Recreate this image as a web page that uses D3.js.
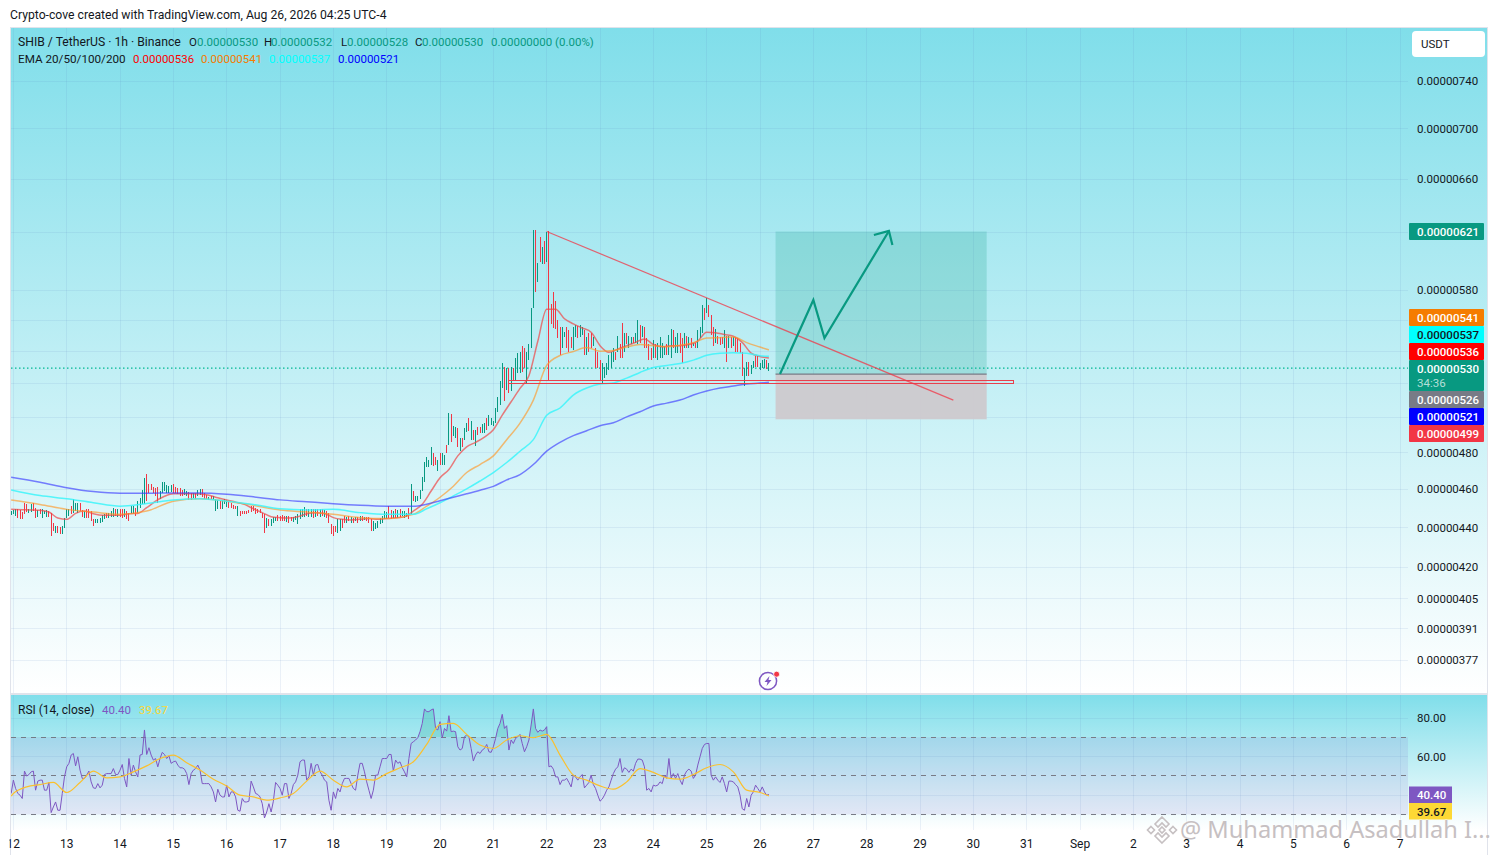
<!DOCTYPE html>
<html>
<head>
<meta charset="utf-8">
<title>SHIB / TetherUS</title>
<script src="https://cdn.jsdelivr.net/npm/d3@7"></script>
<style>
  html, body { margin: 0; padding: 0; background: #fff; overflow: hidden; }
  svg { display: block; }
  text { font-family: Roboto, "Noto Sans", sans-serif; font-size: 11.5px; fill: #131722; }
  .axis path, .axis line { display: none; }
</style>
</head>
<body>
<svg id="chart" width="1498" height="855"></svg>
<script>
// candles are hourly, the first one is Aug 11 23:00. prices are in units of 0.00000001
const firstCandle = Date.UTC(2026, 7, 11, 23);
const hourMs = 3600000;

const candleHigh = [
  448.4,449,449.6,449.3,449,447.9,452.4,452.3,449.6,452.3,452.4,450.2,449,449.3,449.3,448.4,448.8,448.4,447.6,442.4,440.6,440.6,440,440.6,445,
  449.3,449.3,451,454.5,452.8,452.4,452.4,449,448.4,449.3,449.3,448.4,444.1,444.1,444.1,445,446.2,446.7,447.6,447.2,448.4,450.2,449.3,449.3,
  449.3,449.3,449.3,448.4,447.6,451,451,450.2,453.6,455.4,459.7,465.8,468,463,463,461.4,460.6,461.4,458.8,464,464,462.3,461.8,462.3,
  462.8,461.4,460.6,460.6,459.4,460,458.8,458.3,458,458,458,459.7,460,460,458,457.1,455.9,456.2,456.6,454.5,454.2,453.6,454.2,454.5,
  454.2,453.6,452.8,451.4,451,451,448.4,448.4,448.4,448.4,449,451,451,450.2,449.3,449.6,447.6,446.7,445,444.1,444.5,445.5,445.5,446.2,
  445.8,446.2,445.8,445.8,445.8,445.5,445.5,445.8,446.7,449.3,449.6,450.7,449.6,449.3,449.6,449.3,449.3,449.3,449.3,449.3,449,448.4,447.6,441.5,
  440.6,440.6,444.1,444.1,444.5,445.8,445.5,445.8,445.5,445,445.5,445.5,445.8,445.8,445.5,445.5,445.5,444.1,443.2,442.4,443.2,445,445.8,448.4,
  447.9,451,449,448.4,449.3,449,449.3,448.4,448.4,447.6,450.2,462.8,459,456.5,456.5,459.8,466.3,475,477.3,476,483.4,480,477.8,476,
  479.9,479.9,478.5,484.5,502.4,502,495,494.5,494,488.5,488,493.7,497,500,498,493,493,494.5,494.5,496,497,500,501.5,500,
  498,505.6,512,521.7,532.7,530.5,529.5,529.5,530.5,529.5,535.7,538.8,539.5,543.7,542.5,539.5,545,568,622,622,598.5,617,610,614,
  620.7,621.5,571,578.5,572.5,560,555.7,555.7,552.5,555.7,553.5,549,555.7,557,556.2,557,555.7,553.5,549,552,551.5,549,542.5,539.5,
  534.6,532.7,530.5,532.7,537.6,539.5,541.9,539.5,550,545,558.5,551.5,551.5,550,549,549,551.5,560,557,556.2,555.7,548.6,545,542.5,
  547,545,545.6,549,545.6,543.7,545,550.6,554.6,553.5,549,551.5,552,548.6,552,550,549,548.6,545.6,545.6,553.5,555.7,570,568,
  575,570,563.4,555.7,554.6,550,549.5,549,553.5,550,550,549,549,549,548.6,545.6,539.5,529.5,533.3,533.3,531.3,534,537,537,
  532.7,534.6,535,534.6,532.7
];
const candleLow = [
  446.2,446.7,445.8,445,444.5,444.1,446.7,447.9,447.6,447.9,448.4,445,445.5,446.7,445,446.7,445.5,445.5,435.4,438,437.2,437.2,436.8,436.8,439.8,
  445,445.8,446.7,447.6,448.4,447.6,448.4,445.5,445,445,445,443.2,440.6,442,442.4,442,442.7,444.1,445,445,445.5,445.5,445.8,445.5,
  445.5,445,445.5,444.5,443.2,446.7,446.7,445.8,447.6,450.2,451.9,451.9,453.6,458,459.7,458,456.2,452.8,454.5,458,458.8,458,458,458.3,
  458,458,457.6,456.2,456.6,457.1,456.2,454.2,454.2,455.4,454.9,456.2,457.1,455.9,454.9,454.5,454.2,454.9,454.2,448.4,449.3,449.3,449.3,451.9,
  450.7,450.2,450.2,449.3,449.3,445.8,445.8,446.7,446.7,446.7,447.2,447.9,448.4,446.7,447.2,447.6,445,437.2,439.8,440.6,440.6,442.4,443.2,443.2,
  443.2,443.2,443.2,442.7,442.4,443.2,442.7,443.8,441.5,444.1,445.5,445.5,445.8,445.5,445.5,445,445.5,445.8,445.5,445.8,445.5,445,442.4,436.8,
  435.8,437.5,437.2,438,439.8,442.4,442.4,443.2,442.4,442.4,443.2,442.4,443.2,443.2,443.8,443.2,442.4,438,438,438.9,439.8,441.5,442.4,444.1,
  444.5,445,444.5,445,445,445,445.5,445.8,445,445.5,444.5,446.7,453.5,453,453.5,454.7,459,463.7,471.8,471.8,473.4,472.4,473,470,
  473.4,473.4,473.4,480,484.5,486,489.6,488.5,483,481,483,487,491.5,492.4,487,487,484,490,491,491,491,493,495,495.5,
  495,497,503,507.4,517.5,509.7,516.3,514.5,515.7,522.3,521.7,526.7,526.7,527,530,520.5,534.6,542.5,568,578.5,585.3,599,597.6,597.6,
  599,522.3,557.7,555,554.6,548.6,537.6,542.5,549.3,542.5,539.5,542.5,541,549.3,548.6,549.3,550.6,537.6,537.6,539.5,542.5,543.7,530,530,
  521.7,520.5,523.5,525.2,528.3,530,533.3,534.6,539.5,536.2,536.2,539.5,545,541.9,545,545.6,545.6,545,545.6,549.3,541.9,541.9,534.6,534.6,
  536.2,536.2,534.6,535.7,535.7,537.6,537.6,537.6,536.2,541.9,538.8,538.8,538.8,532.7,541.9,541.9,542.5,541.9,543.7,541.9,542.5,548.6,551.5,560,
  565,562,550.6,543.7,545.6,545,544.4,545,541.9,533.3,541.9,541.9,543.7,539.5,539.5,538.8,524.6,518.7,524.6,524.6,526,529.5,530.5,530.5,
  528.3,529.5,529.5,529,527.7
];
// g = close above open, r = close below open
const candleDir = "gggrrrrrggrrgrgggrrrgrrgg" + "ggrgggrrgrrrrgggggrgggrg" + "rrgrrggrggggrrrrrrgggggg" +
  "rrrrrggrrgrggrrrgrgggrgg" + "grrrrgrrrrrrrrrrrrgrgggr" + "rrrgrrggggggrggrgrgrgrrr" +
  "rrggrrgrgrgrgrgrrrgggggg" + "grrgrgrgggrgrggggggggrrg" + "rggrgrggrgrggrgrgrrggrgg" +
  "gggggrgrgrgggrrggggrgrgr" + "grrrrrrggrrrggrggrgrrgrr" + "rggggggrgrrgrggrggrgrrrr" +
  "grggggrggrggrrgrgrgrgggr" + "grrrgrrrgrgrgrrrrggrggrr" + "gggrg";

// EMA readings, hours counted from Aug 12 00:00
const emaSlowHours = [-1,12,24,36,48,60,72,84,96,108,120,132,144,156,168,180,186,192,198,204,210,216,222,228,234,240,246,252,258,264,270,276,282,288,294,300,306,312,318,324,330,336,340];
const ema200 = [466.4,463.7,460.8,458.7,457.8,457.8,458,458,457.3,455.9,454.3,453.3,452.3,451.5,451,450.9,452,453.8,455.7,457.5,459.4,461.5,465,467.9,473.4,480.8,485.8,489.6,492.4,495.3,497,500.4,503.4,506.8,508.5,510.3,513.3,515.7,517.5,518.7,519.9,520.5,521];
const ema100 = [459.6,456.6,454.9,452.8,451,452.4,454.2,454.9,453.6,451.9,449.6,449,449.3,447.6,446.7,446.7,449.6,452.8,456.4,460.2,464.4,469,474.5,480.8,487.3,501.4,505.6,513.3,517.5,519.9,520.6,523.5,527,530,531.3,532.5,534.6,537.6,538.9,539.2,538.9,537.3,537];
const ema50 = [454.2,451.9,449.3,447.9,446.7,448.4,453.6,454.9,453.6,451.4,449,447.9,446.7,445,444.5,446.7,451,455.7,461.6,469,473.4,478.2,487.3,496.8,510.3,531.3,537.5,540,542.5,540.2,540.6,542.8,544.4,543.7,543,544,545.6,548.5,548.8,549.2,545.6,542.8,541];
const emaFastHours = [-1,4,8,12,16,20,24,28,32,36,40,44,48,52,56,60,64,68,72,76,80,84,88,92,96,100,104,108,112,116,120,124,128,132,136,140,144,148,152,156,160,164,168,172,176,180,184,188,192,196,200,204,208,212,216,220,224,228,232,236,240,244,248,252,256,260,264,268,272,276,280,284,288,292,296,300,304,308,312,316,320,324,328,332,336,340];
const ema20 = [449.3,449.1,449,448.8,447.9,444.8,444.1,447.2,448.4,447,446.2,446.2,446.2,447,447.2,450.2,453.6,456.2,457.6,457.6,457.6,457.4,456.8,455.4,454.2,453.1,451.9,449.6,447.6,445.5,445,444.8,445.5,447,447.6,447.2,445,444.1,443.8,444.1,444.5,444.1,444.5,445,445.5,448.4,452,459,466.2,470.7,478.2,483.2,485.8,488.8,493,501.4,509.3,517.3,525,546.5,567.3,567.3,561,557.7,555,552.3,543.7,539.5,541.5,543.7,545.8,548,544.4,543,543.7,543.7,544.4,546.6,552.3,552,550.8,549.7,545.8,539,536.9,536];

// RSI 14 for each candle
const rsiValues = [
  40.9,47.8,43.5,40.9,40,38.3,52.5,49.9,50.7,52.1,52.5,42.6,47.3,47.8,47.8,42.6,42.6,46.6,31,33.9,36.5,32.2,32.2,40.9,49.5,
  54.7,56.5,60.8,61.6,55.2,59.9,53,48.7,48.7,50.4,52.5,46.9,43.8,43.5,46,43.8,45.2,50.7,51.2,51.2,51.2,53.8,50.7,50.7,
  53,55.9,48.7,44.3,59,50.4,55.6,52.1,49.5,60.8,61.1,73.8,61.1,64.6,60.8,58.2,59,54.7,59,62.2,61.1,59,60.4,56.5,
  57.3,57.7,55.6,54.2,54.2,53.5,51.2,45.5,51.2,53,53.8,55.6,53,46,46,46,46,44.3,41.7,36.5,43.1,40,39.1,39.1,
  45.2,39.1,41.7,41.7,39.1,32.2,31.7,38.3,36.5,36.5,36.9,47.3,44.3,40.9,40.4,39.1,35.6,28.2,31.3,35.6,31.3,36.9,46.6,45.2,
  43.5,40,46,46,38.3,40.9,45.5,46.9,50.4,57.3,58.2,58.2,47.8,49.5,56.5,50.4,55.6,55.9,52.1,50.4,47.8,46.9,37.4,32.2,
  41.7,38.3,43.5,41.7,46,48.7,48.7,48.7,46,43.5,42.6,50.4,56.5,56.5,52.1,46.9,42.6,38.3,42.6,50.4,50.4,54.7,59,59,
  59,61.1,61.1,52.5,58.2,56.5,57.3,54.2,52.1,49.5,59,66.8,67.7,68.6,69.8,72.9,77.2,84.7,83.3,83.3,84.2,84.7,74.6,73.8,
  78.1,69.8,74.6,73.2,81.2,72.9,73.2,72.9,65.1,63.4,64.2,70.3,71.2,70.3,64.2,57.7,60.8,62.5,61.6,63.4,64.2,66.3,62.5,62.2,
  65.1,69.4,74.6,77.2,81.9,74.6,76,63.4,68.6,66.8,69.4,70.3,71.5,66.8,62.5,65.1,68.6,76.4,84.7,74.6,72.6,73.8,73.2,73.8,
  75.5,54.7,55.2,53.5,49.5,49.5,45.5,47.8,47.8,48.7,46.6,44.3,50.4,49.5,47.8,49.5,50.7,43.8,45.2,46.6,50.4,45.5,43.5,40,
  36.9,38,40,42.6,44.3,47.8,51.2,53.5,54.7,59,51.8,54.2,53.5,51.8,53.5,52.5,56.5,58.7,58.7,58.2,54.7,42.6,43.5,41.7,
  45.2,44.8,45.2,46.9,46,50.4,48.7,59,48.7,51.2,48.7,51.2,47.8,45.5,50.4,52.5,53.5,52.5,48.7,50.4,55.6,59.9,64.2,66.3,
  66.8,66.8,50.4,47.8,49.5,47.8,46.6,49.5,46,41.7,47.3,47.3,46.9,45.5,44.3,40,33,32.2,38.3,33.9,40,41.7,45.2,43.5,
  41.7,44.3,41.7,40,40.4
];
const rsiMaHours = [-1,0,6,12,18,24,30,36,42,48,54,60,66,72,78,84,90,96,102,108,114,120,126,132,138,144,150,156,162,168,174,180,186,192,198,204,210,216,222,228,234,240,246,252,258,264,270,276,282,288,294,300,306,312,318,324,330,336,340];
const rsiMa = [39.5,40.9,44.3,45.5,46.6,41.4,46.6,52.5,49,49.5,52.1,55.2,59,60.8,56.8,53,48.3,44.8,40,39.1,37.4,38.6,40.9,47.3,52.5,47.8,44.3,48.3,47.8,51.2,54.2,57.3,66.3,76.7,77.2,71.5,66,64.2,68.6,70.8,69.8,71.5,60.8,50.4,47.8,44.8,43.1,46.9,53.8,51.8,49,48.3,50.7,54.2,55.9,52.1,42.6,41.4,39.67];

// axis ticks
const priceLabels = [740,700,660,580,480,460,440,420,405,391,377];
const priceGrid = [740,700,660,620,580,560,540,520,500,480,460,440,420,405,391,377];
const rsiLabels = [80,60];
const rsiGrid = [80,60,40];
const rsiDashed = [70,50,30];
const timeDays = d3.utcDay.range(new Date(Date.UTC(2026,7,12)), new Date(Date.UTC(2026,8,8)));

// price tags on the right, top to bottom, the stack is pushed apart like on the real chart
const tagPrices = [541,537,536,530,526,521,499];
const tagColors = ["#f57c00","#00ffff","#ff0000","#089981","#787b86","#0000ff","#f23645"];
const tagText = ["#fff","#131722","#fff","#fff","#fff","#fff","#fff"];

// drawings
const trendTimes = [Date.UTC(2026,7,22,0), Date.UTC(2026,7,29,15)];
const trendPrices = [621, 510.3];
const zoneTimes = [Date.UTC(2026,7,21,7), Date.UTC(2026,7,30,18)];
const zonePrices = [522, 520];
const posTimes = [Date.UTC(2026,7,26,7), Date.UTC(2026,7,30,6)];
const posEntry = 526, posTarget = 621, posStop = 499;
const pathTimes = [Date.UTC(2026,7,26,9), Date.UTC(2026,7,27,0), Date.UTC(2026,7,27,5), Date.UTC(2026,7,28,10)];
const pathPrices = [526, 573.4, 548.6, 621.4];
const lastPrice = 530;

const svg = d3.select("#chart");
const paneLeft = 11, paneRight = 1408, edge = 1488;
const defs = svg.append("defs");

function bgGradient(id) {
  const g = defs.append("linearGradient").attr("id", id).attr("x1", 0).attr("y1", 0).attr("x2", 0).attr("y2", 1);
  g.append("stop").attr("offset", 0).attr("stop-color", "#80deea");
  g.append("stop").attr("offset", 1).attr("stop-color", "#ffffff");
}
bgGradient("mainBg");
bgGradient("rsiBg");
defs.append("clipPath").attr("id", "mainClip").append("rect").attr("x", paneLeft).attr("y", 28).attr("width", paneRight - paneLeft).attr("height", 665);
defs.append("clipPath").attr("id", "rsiClip").append("rect").attr("x", paneLeft).attr("y", 695).attr("width", paneRight - paneLeft).attr("height", 135);
defs.append("clipPath").attr("id", "timeClip").append("rect").attr("x", 9.5).attr("y", 830).attr("width", 1478).attr("height", 25);

const x = d3.scaleUtc().domain([Date.UTC(2026,7,13), Date.UTC(2026,8,7)]).range([66.7, 1400]);
const y = d3.scaleLog().domain([740, 377]).range([81, 660]);
const yRsi = d3.scaleLinear().domain([80, 30]).range([718, 814.5]);
const hourX = h => x(Date.UTC(2026,7,12) + h * hourMs);
const priceFmt = v => (v / 1e8).toFixed(8);

// backgrounds
svg.append("rect").attr("x", 10).attr("y", 27).attr("width", edge - 10).attr("height", 828).attr("fill", "#e0e3eb");
svg.append("rect").attr("x", paneLeft).attr("y", 28).attr("width", edge - paneLeft - 1).attr("height", 665).attr("fill", "url(#mainBg)");
svg.append("rect").attr("x", paneLeft).attr("y", 695).attr("width", edge - paneLeft - 1).attr("height", 160).attr("fill", "#fff");
svg.append("rect").attr("x", paneLeft).attr("y", 695).attr("width", edge - paneLeft - 1).attr("height", 135).attr("fill", "url(#rsiBg)");

const main = svg.append("g").attr("clip-path", "url(#mainClip)");
const rsiPane = svg.append("g").attr("clip-path", "url(#rsiClip)");
const gridColor = "rgba(90,130,190,0.11)";

// grids
main.append("g").selectAll("line").data(timeDays).enter().append("line")
  .attr("x1", d => x(d)).attr("x2", d => x(d)).attr("y1", 28).attr("y2", 693)
  .attr("stroke", gridColor).attr("shape-rendering", "crispEdges");
main.append("g").selectAll("line").data(priceGrid).enter().append("line")
  .attr("x1", paneLeft).attr("x2", paneRight).attr("y1", d => y(d)).attr("y2", d => y(d))
  .attr("stroke", gridColor).attr("shape-rendering", "crispEdges");

// long position box
main.append("rect").attr("x", x(posTimes[0])).attr("width", x(posTimes[1]) - x(posTimes[0]))
  .attr("y", y(posTarget)).attr("height", y(posEntry) - y(posTarget)).attr("fill", "rgba(8,153,129,0.2)");
main.append("rect").attr("x", x(posTimes[0])).attr("width", x(posTimes[1]) - x(posTimes[0]))
  .attr("y", y(posEntry)).attr("height", y(posStop) - y(posEntry)).attr("fill", "#cdc9ce").attr("fill-opacity", 0.95);
main.append("line").attr("x1", x(posTimes[0])).attr("x2", x(posTimes[1])).attr("y1", y(posEntry)).attr("y2", y(posEntry))
  .attr("stroke", "#787b86").attr("stroke-width", 1.2);

// last price dotted line
main.append("line").attr("x1", paneLeft).attr("x2", paneRight).attr("y1", y(lastPrice) + 0.5).attr("y2", y(lastPrice) + 0.5)
  .attr("stroke", "#00b894").attr("stroke-width", 1.2).attr("stroke-dasharray", "1.5 2.5");

// candles
const candles = candleHigh.map((h, i) => ({ t: firstCandle + i * hourMs, high: h, low: candleLow[i], dir: candleDir[i] }));
main.append("g").selectAll("line").data(candles).enter().append("line")
  .attr("x1", d => x(d.t)).attr("x2", d => x(d.t))
  .attr("y1", d => y(d.high)).attr("y2", d => y(d.low))
  .attr("stroke", d => d.dir === "g" ? "#089981" : "#f23645")
  .attr("stroke-width", 1).attr("shape-rendering", "crispEdges");

// EMA lines
function emaLine(hours, values, color) {
  const line = d3.line().x((d, i) => hourX(hours[i])).y(d => y(d)).curve(d3.curveMonotoneX);
  main.append("path").attr("d", line(values)).attr("fill", "none").attr("stroke", color).attr("stroke-width", 1.5);
}
emaLine(emaFastHours, ema20, "rgba(240,70,70,0.7)");
emaLine(emaSlowHours, ema50, "rgba(255,152,40,0.65)");
emaLine(emaSlowHours, ema100, "rgba(60,245,250,0.85)");
emaLine(emaSlowHours, ema200, "rgba(60,60,255,0.65)");

// support zone rectangle
main.append("rect").attr("x", x(zoneTimes[0])).attr("width", x(zoneTimes[1]) - x(zoneTimes[0]))
  .attr("y", y(zonePrices[0])).attr("height", y(zonePrices[1]) - y(zonePrices[0]))
  .attr("fill", "none").attr("stroke", "#e8404c").attr("shape-rendering", "crispEdges");

// trend line
main.append("line").attr("x1", x(trendTimes[0])).attr("y1", y(trendPrices[0])).attr("x2", x(trendTimes[1])).attr("y2", y(trendPrices[1]))
  .attr("stroke", "#f23645").attr("stroke-opacity", 0.75).attr("stroke-width", 1.2);

// zigzag arrow
const pathLine = d3.line().x((d, i) => x(pathTimes[i])).y(d => y(d));
main.append("path").attr("d", pathLine(pathPrices)).attr("fill", "none").attr("stroke", "#089981").attr("stroke-width", 2.2).attr("stroke-linejoin", "miter");
const tipX = x(pathTimes[3]), tipY = y(pathPrices[3]);
main.append("path").attr("d", `M${tipX - 15},${tipY + 4}L${tipX},${tipY}L${tipX + 3.5},${tipY + 14}`)
  .attr("fill", "none").attr("stroke", "#089981").attr("stroke-width", 2.2);

// lightning icon
const icon = svg.append("g").attr("transform", "translate(768,681)");
icon.append("circle").attr("r", 8.6).attr("fill", "none").attr("stroke", "#7e57c2").attr("stroke-width", 1.5);
icon.append("path").attr("d", "M1.5,-5L-3.5,1H-0.5L-1.5,5L3.5,-1H0.5Z").attr("fill", "#7e57c2");
icon.append("circle").attr("cx", 8.6).attr("cy", -6.8).attr("r", 3).attr("fill", "#f23645").attr("stroke", "#fff").attr("stroke-width", 0.8);

// price axis
const priceAxis = d3.axisRight(y).tickValues(priceLabels).tickFormat(priceFmt).tickSize(0).tickPadding(0);
svg.append("g").attr("class", "axis").attr("transform", "translate(1417,0)").call(priceAxis)
  .selectAll("text").attr("dy", "0.32em").style("fill", "#131722");

// price tags
function priceTag(yTop, h, color, textColor, label, extra) {
  svg.append("rect").attr("x", 1409).attr("y", yTop).attr("width", 75).attr("height", h).attr("rx", 1).attr("fill", color);
  svg.append("text").attr("x", 1417).attr("y", yTop + 12.5).style("fill", textColor).style("font-weight", 500).text(label);
  if (extra) svg.append("text").attr("x", 1417).attr("y", yTop + 27).style("fill", "rgba(255,255,255,0.7)").text(extra);
}
priceTag(y(posTarget) - 8.5, 17, "#089981", "#fff", priceFmt(posTarget));
let tagTop = 309;
tagPrices.forEach((p, i) => {
  const isLast = p === lastPrice;
  priceTag(tagTop, isLast ? 31 : 17, tagColors[i], tagText[i], priceFmt(p), isLast ? "34:36" : null);
  tagTop += isLast ? 31 : 17;
});

// USDT button
svg.append("rect").attr("x", 1412).attr("y", 31).attr("width", 73).attr("height", 26).attr("rx", 4).attr("fill", "#fff");
svg.append("text").attr("x", 1421).attr("y", 48).text("USDT");

// RSI pane
rsiPane.append("rect").attr("x", paneLeft).attr("width", paneRight - paneLeft).attr("y", yRsi(70)).attr("height", yRsi(30) - yRsi(70))
  .attr("fill", "rgba(126,87,194,0.12)");
rsiPane.append("g").selectAll("line").data(timeDays).enter().append("line")
  .attr("x1", d => x(d)).attr("x2", d => x(d)).attr("y1", 695).attr("y2", 830)
  .attr("stroke", gridColor).attr("shape-rendering", "crispEdges");
rsiPane.append("g").selectAll("line").data(rsiGrid).enter().append("line")
  .attr("x1", paneLeft).attr("x2", paneRight).attr("y1", d => yRsi(d)).attr("y2", d => yRsi(d))
  .attr("stroke", gridColor).attr("shape-rendering", "crispEdges");
rsiPane.append("g").selectAll("line").data(rsiDashed).enter().append("line")
  .attr("x1", paneLeft).attr("x2", paneRight).attr("y1", d => yRsi(d)).attr("y2", d => yRsi(d))
  .attr("stroke", "#787b86").attr("stroke-dasharray", "5 5").attr("shape-rendering", "crispEdges");

// fill where RSI goes over 70
defs.append("clipPath").attr("id", "over70").append("rect").attr("x", paneLeft).attr("y", 695).attr("width", paneRight - paneLeft).attr("height", yRsi(70) - 695);
const rsiArea = d3.area().x((d, i) => x(firstCandle + i * hourMs)).y0(yRsi(70)).y1(d => yRsi(d));
rsiPane.append("path").attr("clip-path", "url(#over70)").attr("d", rsiArea(rsiValues)).attr("fill", "rgba(8,153,129,0.2)");

const rsiLine = d3.line().x((d, i) => x(firstCandle + i * hourMs)).y(d => yRsi(d));
rsiPane.append("path").attr("d", rsiLine(rsiValues)).attr("fill", "none").attr("stroke", "#7e57c2").attr("stroke-width", 1);
const rsiMaLine = d3.line().x((d, i) => hourX(rsiMaHours[i])).y(d => yRsi(d)).curve(d3.curveMonotoneX);
rsiPane.append("path").attr("d", rsiMaLine(rsiMa)).attr("fill", "none").attr("stroke", "#fbc02d").attr("stroke-width", 1.2);

const rsiAxis = d3.axisRight(yRsi).tickValues(rsiLabels).tickFormat(d3.format(".2f")).tickSize(0).tickPadding(0);
svg.append("g").attr("class", "axis").attr("transform", "translate(1417,0)").call(rsiAxis)
  .selectAll("text").attr("dy", "0.32em").style("fill", "#131722");

const rsiTags = [[40.40, "#7e57c2", "#fff", 786.5], [39.67, "#fdd835", "#131722", 803]];
rsiTags.forEach(t => {
  svg.append("rect").attr("x", 1409).attr("y", t[3]).attr("width", 43).attr("height", 16.5).attr("fill", t[1]);
  svg.append("text").attr("x", 1417).attr("y", t[3] + 12.5).style("fill", t[2]).style("font-weight", 500).text(t[0].toFixed(2));
});

// watermark sits under the time labels
const mark = svg.append("g").attr("fill", "none").attr("stroke", "#c6c0c2").attr("stroke-width", 1.6).attr("transform", "translate(1162,830)");
mark.append("path").attr("d", "M0,-13L7,-6L4,-3L0,-7L-4,-3L-7,-6Z M0,13L7,6L4,3L0,7L-4,3L-7,6Z M-11,-3.5L-7.5,0L-11,3.5L-14.5,0Z M11,-3.5L14.5,0L11,3.5L7.5,0Z M0,-3L3,0L0,3L-3,0Z");
svg.append("text").attr("x", 1180).attr("y", 838).style("font-size", "23.6px").style("font-family", "'Noto Sans', sans-serif")
  .style("fill", "#c6c0c2").style("stroke", "#fff").style("stroke-width", 0.6).style("paint-order", "stroke")
  .text("@ Muhammad Asadullah I...");

// time axis, clip sits on an outer group so the axis translate does not move it
const timeAxis = d3.axisBottom(x).tickValues(timeDays).tickSize(0).tickPadding(0)
  .tickFormat(d => d.getUTCDate() === 1 ? "Sep" : String(d.getUTCDate()));
svg.append("g").attr("clip-path", "url(#timeClip)")
  .append("g").attr("class", "axis").attr("transform", "translate(-0.5,839)").call(timeAxis)
  .selectAll("text").style("fill", "#131722").style("font-size", "12px");

// header and legends
svg.append("text").attr("x", 10).attr("y", 19).style("font-size", "12.2px").text("Crypto-cove created with TradingView.com, Aug 26, 2026 04:25 UTC-4");

function legend(yPos, parts) {
  parts.forEach(p => {
    svg.append("text").attr("x", p[0]).attr("y", yPos).style("fill", p[2]).style("font-size", (p[3] || 11.5) + "px").text(p[1]);
  });
}
const up = "#089981", ink = "#131722";
legend(46, [[18, "SHIB / TetherUS · 1h · Binance", ink, 12.2], [189, "O", ink], [197, "0.00000530", up], [264, "H", ink], [271, "0.00000532", up],
  [341, "L", ink], [347, "0.00000528", up], [415, "C", ink], [422, "0.00000530", up], [491, "0.00000000 (0.00%)", up]]);
legend(63, [[18, "EMA 20/50/100/200", ink, 11.7], [133, "0.00000536", "#ff0000"], [201, "0.00000541", "#f57c00"], [269, "0.00000537", "#00ffff"], [338, "0.00000521", "#0000ff"]]);
legend(714, [[18, "RSI (14, close)", ink, 12], [102, "40.40", "#7e57c2"], [139, "39.67", "#fdd835"]]);
</script>
</body>
</html>
